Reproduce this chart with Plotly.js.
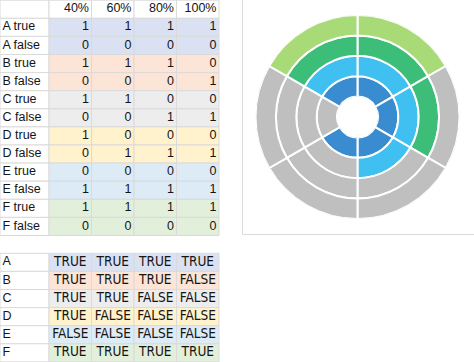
<!DOCTYPE html>
<html><head><meta charset="utf-8">
<script src="https://cdn.plot.ly/plotly-3.0.1.min.js"></script>
<style>html,body{margin:0;padding:0;background:#fff;}#chart{width:474px;height:362px;}</style>
</head><body><div id="chart"></div>
<script>
// ---- data ----
const levels = ['40%', '60%', '80%', '100%'];
const rowLabels = ['A true','A false','B true','B false','C true','C false','D true','D false','E true','E false','F true','F false'];
const v40  = [1,0,1,0,1,0,1,0,0,1,1,0];
const v60  = [1,0,1,0,1,0,0,1,0,1,1,0];
const v80  = [1,0,1,0,0,1,0,1,0,1,1,0];
const v100 = [1,0,0,1,0,1,0,1,0,1,1,0];
const categories = ['A','B','C','D','E','F'];
const flag40  = ['TRUE','TRUE','TRUE','TRUE','FALSE','TRUE'];
const flag60  = ['TRUE','TRUE','TRUE','FALSE','FALSE','TRUE'];
const flag80  = ['TRUE','TRUE','FALSE','FALSE','FALSE','TRUE'];
const flag100 = ['TRUE','FALSE','FALSE','FALSE','FALSE','TRUE'];

// ---- styles / layout constants ----
const W = 474, H = 362;
const colEdges = [0, 49, 91.5, 134, 176.5, 219];
const topTableTop = 0.2, rowH = 18.1, bottomTableTop = 253.3;
const gridColor = '#DADADA';
const textColor = '#141414';
const categoryFills = ['#D9E1F2','#FCE4D6','#EDEDED','#FFF2CC','#DDEBF7','#E2EFDA'];
const ringColors = ['#3A8CD0','#40C0F0','#3CBE78','#A8DA78'];
const offColor = '#BFBFBF';
const baseFont = 'Liberation Sans, Arial, sans-serif';
const narrowFont = 'Liberation Sans Narrow, Arial Narrow, DejaVu Sans Condensed, sans-serif';

const topValues = [v40, v60, v80, v100];
const flags = [flag40, flag60, flag80, flag100];
const traces = [];

function cellBars(centers, fillFn) {
  for (let c = 0; c < colEdges.length - 1; c++) {
    traces.push({
      type: 'bar', orientation: 'h', xaxis: 'x', yaxis: 'y',
      y: centers, x: centers.map(() => colEdges[c + 1] - colEdges[c]),
      base: colEdges[c], width: rowH,
      marker: {color: centers.map((_, j) => fillFn(c, j)), line: {color: gridColor, width: 1}},
      hoverinfo: 'skip', showlegend: false
    });
  }
}
function textCol(xs, ys, texts, pos, font, size) {
  traces.push({
    type: 'scatter', mode: 'text', xaxis: 'x', yaxis: 'y',
    x: xs, y: ys, text: texts, textposition: pos, cliponaxis: false,
    textfont: {family: font, size: size, color: textColor},
    hoverinfo: 'skip', showlegend: false
  });
}

// ---- top table (header + 12 rows) ----
const topCenters = Array.from({length: rowLabels.length + 1}, (_, j) => topTableTop + (j + 0.5) * rowH);
cellBars(topCenters, (c, j) => (c === 0 || j === 0) ? '#FFFFFF' : categoryFills[Math.floor((j - 1) / 2)]);
textCol(topCenters.map(() => colEdges[0] + 2.5), topCenters, [''].concat(rowLabels), 'middle right', baseFont, 12.5);
topValues.forEach((vals, k) => {
  textCol(topCenters.map(() => colEdges[k + 2] - 2.5), topCenters, [levels[k]].concat(vals.map(String)), 'middle left', baseFont, 12.5);
});

// ---- bottom table ----
const bottomCenters = categories.map((_, j) => bottomTableTop + (j + 0.5) * rowH);
cellBars(bottomCenters, (c, j) => c === 0 ? '#FFFFFF' : categoryFills[j]);
textCol(bottomCenters.map(() => colEdges[0] + 2.5), bottomCenters, categories, 'middle right', baseFont, 12.5);
flags.forEach((f, k) => {
  textCol(bottomCenters.map(() => (colEdges[k + 1] + colEdges[k + 2]) / 2), bottomCenters, f, 'middle center', narrowFont, 13.5);
});

// ---- doughnut rings ----
flags.forEach((f, k) => {
  const vals = topValues[k];
  traces.push({
    type: 'barpolar', subplot: 'polar',
    theta: categories,
    r: categories.map((_, i) => vals[2 * i] + vals[2 * i + 1]),
    base: k,
    marker: {color: f.map(x => x === 'TRUE' ? ringColors[k] : offColor), line: {color: '#FFFFFF', width: 2}},
    hoverinfo: 'skip', showlegend: false
  });
});

const layout = {
  width: W, height: H, margin: {l: 0, r: 0, t: 0, b: 0},
  paper_bgcolor: '#FFFFFF', plot_bgcolor: 'rgba(0,0,0,0)',
  showlegend: false, barmode: 'overlay', bargap: 0,
  font: {family: baseFont, size: 12, color: textColor},
  xaxis: {range: [0, W], visible: false, fixedrange: true, domain: [0, 1]},
  yaxis: {range: [H, 0], visible: false, fixedrange: true, domain: [0, 1]},
  polar: {
    domain: {x: [255.5 / W, 459.5 / W], y: [1 - 219 / H, 1 - 15 / H]},
    hole: 0.2, bgcolor: 'rgba(0,0,0,0)', bargap: 0,
    radialaxis: {range: [0, 4], visible: false, showgrid: false, showline: false, showticklabels: false, ticks: ''},
    angularaxis: {type: 'category', categoryarray: categories, rotation: 60, direction: 'clockwise',
      visible: false, showgrid: false, showline: false, showticklabels: false, ticks: ''}
  },
  shapes: [{type: 'rect', xref: 'x', yref: 'y', x0: 242.5, x1: W + 5, y0: -5, y1: 234.5,
    line: {color: gridColor, width: 1}, fillcolor: 'rgba(0,0,0,0)', layer: 'below'}]
};

Plotly.newPlot('chart', traces, layout, {staticPlot: true, displayModeBar: false});
</script></body></html>
